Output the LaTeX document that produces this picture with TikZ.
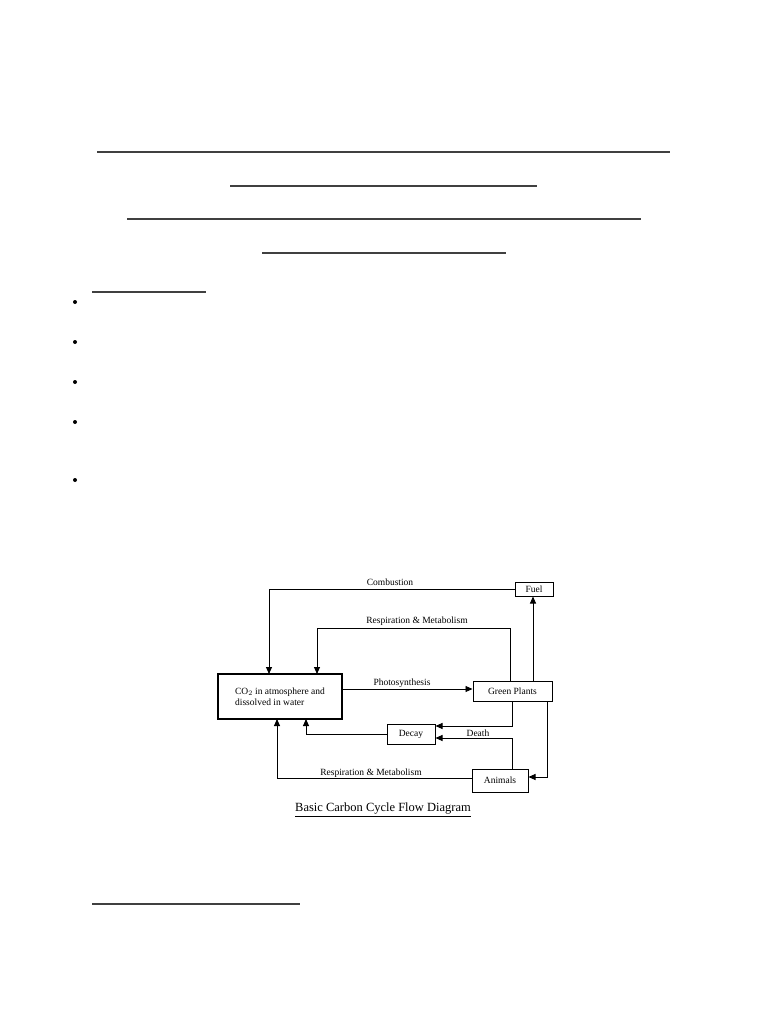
\documentclass[tikz,border=0pt]{standalone}
\usepackage{fontspec}
\setmainfont{Liberation Serif}
\usetikzlibrary{arrows.meta}
\begin{document}
\begin{tikzpicture}[x=1pt,y=-1pt,
  bx/.style={draw,line width=1pt,inner sep=0pt,font=\fontsize{9.5}{11}\selectfont},
  ar/.style={line width=0.9pt,-{Triangle[length=7pt,width=6pt]}},
  lb/.style={font=\fontsize{9.5}{11}\selectfont,inner sep=0pt},
  rl/.style={line width=2.5pt,color=black!75}]
\useasboundingbox (0,0) rectangle (768,1024);
\draw[rl] (97,152) -- (670,152);
\draw[rl] (230,186) -- (537,186);
\draw[rl] (127,219) -- (641,219);
\draw[rl] (262,253) -- (506,253);
\draw[line width=1.2pt,black!75] (92,292) -- (206,292);
\draw[line width=1.2pt,black!75] (92,904) -- (300,904);
\foreach \y in {302,342,382,422,480} \fill (75,\y) circle (2pt);
% boxes
\node[bx,line width=1.6pt,minimum width=124pt,minimum height=45pt,align=left] (co2) at (280,696.5) {CO$_2$ in atmosphere and\\dissolved in water};
\node[bx,minimum width=38pt,minimum height=14pt] (fuel) at (534,589) {Fuel};
\node[bx,minimum width=79pt,minimum height=20pt] (gp) at (512.5,691) {Green Plants};
\node[bx,minimum width=48pt,minimum height=20pt] (decay) at (411,734) {Decay};
\node[bx,minimum width=56pt,minimum height=23pt] (an) at (500,780.5) {Animals};
% connectors
\draw[ar] (fuel.west) -- (269,589) -- (269,674);
\draw[ar] (gp.north -| 510,0) -- (510,628) -- (317,628) -- (317,674);
\draw[ar] (co2.east |- 0,689) -- (gp.west |- 0,689);
\draw[ar] (gp.north -| 533,0) -- (fuel.south -| 533,0);
\draw[ar] (gp.south -| 512,0) -- (512,726) -- (decay.east |- 0,726);
\draw[ar] (an.north -| 512,0) -- (512,738) -- (decay.east |- 0,738);
\draw[ar] (gp.east |- 0,701) ++(-5,0) -- (547,701) -- (547,777) -- (an.east |- 0,777);
\draw[ar] (decay.west) -- (306,734) -- (306,719);
\draw[ar] (an.west |- 0,778) -- (277,778) -- (277,719);
% labels
\node[lb] (l1) at (390,582) {Combustion};
\node[lb] (l2) at (417,621) {Respiration \& Metabolism};
\node[lb] (l3) at (402,683) {Photosynthesis};
\node[lb] (l4) at (478,733) {Death};
\node[lb] (l5) at (371,773) {Respiration \& Metabolism};
\node[lb,font=\fontsize{12.5}{14}\selectfont] (cap) at (383,810) {\underline{Basic Carbon Cycle Flow Diagram}};
\end{tikzpicture}
\end{document}
